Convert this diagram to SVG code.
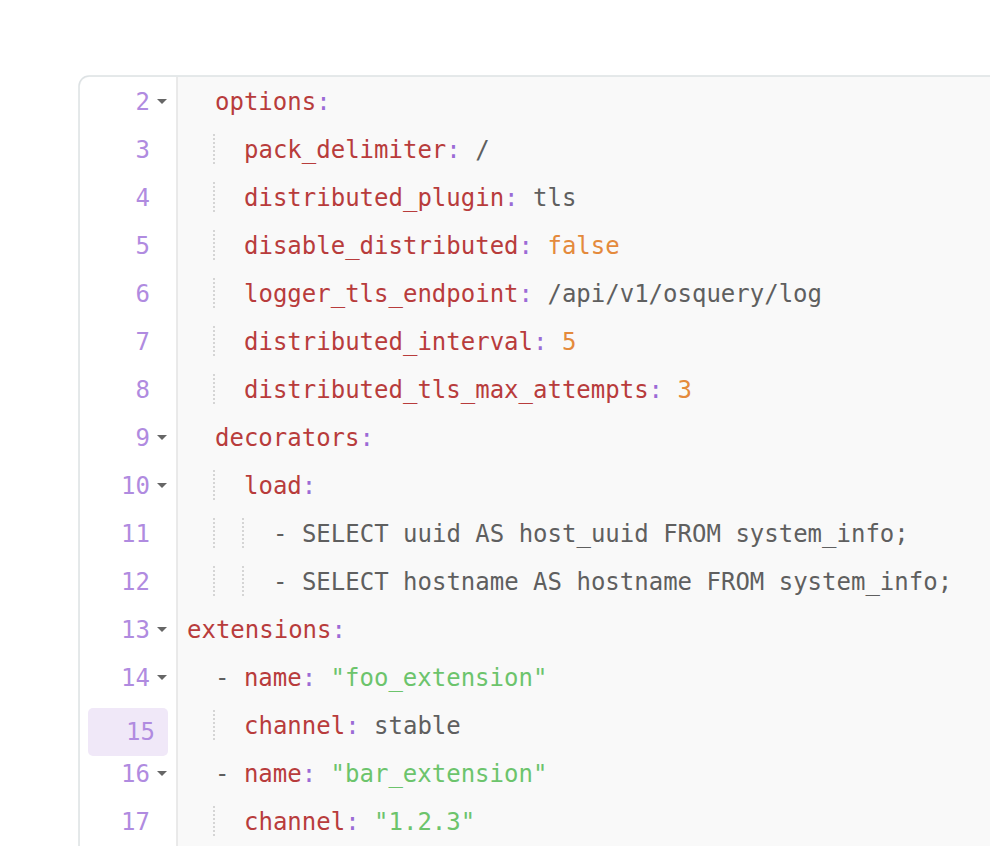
<svg xmlns="http://www.w3.org/2000/svg" width="990" height="846" viewBox="0 0 990 846">
<style>
text{font-family:"DejaVu Sans Mono","Liberation Mono",monospace;font-size:24px}
.n{fill:#b08be0;text-anchor:end}
.k{fill:#b83c3c}.p{fill:#9b6bd6}.s{fill:#6cc46c}.o{fill:#e48a3c}.t{fill:#5f5f5f}
.g{stroke:#bdbdbd;stroke-width:1.2;stroke-dasharray:2 2}
.a{fill:#666}
</style>
<rect width="990" height="846" fill="#fff"/>
<g id="editor">
<path d="M990 76H89a10 10 0 0 0-10 10V846H990Z" fill="#f9f9f9"/>
<path d="M80 86a10 10 0 0 1 10-9H177V846H80Z" fill="#fff"/>
<path d="M990 76H89a10 10 0 0 0-10 10V846" fill="none" stroke="#dde2e4" stroke-width="1.5"/>
<line x1="177" y1="77" x2="177" y2="846" stroke="#e3e3e3" stroke-width="1.5"/>
<rect x="88" y="708" width="80" height="48" rx="5" fill="#f0e8f8"/>
</g>
<g id="guides">
<line class="g" x1="214" y1="134" x2="214" y2="166"/>
<line class="g" x1="214" y1="182" x2="214" y2="214"/>
<line class="g" x1="214" y1="230" x2="214" y2="262"/>
<line class="g" x1="214" y1="278" x2="214" y2="310"/>
<line class="g" x1="214" y1="326" x2="214" y2="358"/>
<line class="g" x1="214" y1="374" x2="214" y2="406"/>
<line class="g" x1="214" y1="470" x2="214" y2="502"/>
<line class="g" x1="214" y1="518" x2="214" y2="550"/>
<line class="g" x1="214" y1="566" x2="214" y2="598"/>
<line class="g" x1="243" y1="518" x2="243" y2="550"/>
<line class="g" x1="243" y1="566" x2="243" y2="598"/>
<line class="g" x1="214" y1="710" x2="214" y2="742"/>
<line class="g" x1="214" y1="806" x2="214" y2="838"/>
</g>
<g id="gutter">
<text class="n" x="150" y="110">2</text><path class="a" d="M157 99h10l-5 5z"/>
<text class="n" x="150" y="158">3</text>
<text class="n" x="150" y="206">4</text>
<text class="n" x="150" y="254">5</text>
<text class="n" x="150" y="302">6</text>
<text class="n" x="150" y="350">7</text>
<text class="n" x="150" y="398">8</text>
<text class="n" x="150" y="446">9</text><path class="a" d="M157 435h10l-5 5z"/>
<text class="n" x="150" y="494">10</text><path class="a" d="M157 483h10l-5 5z"/>
<text class="n" x="150" y="542">11</text>
<text class="n" x="150" y="590">12</text>
<text class="n" x="150" y="638">13</text><path class="a" d="M157 627h10l-5 5z"/>
<text class="n" x="150" y="686">14</text><path class="a" d="M157 675h10l-5 5z"/>
<text class="n" x="155" y="740">15</text>
<text class="n" x="150" y="782">16</text><path class="a" d="M157 771h10l-5 5z"/>
<text class="n" x="150" y="830">17</text>
</g>
<g id="code">
<text x="215" y="110"><tspan class="k">options</tspan><tspan class="p">:</tspan></text>
<text x="244" y="158"><tspan class="k">pack_delimiter</tspan><tspan class="p">:</tspan><tspan class="t"> /</tspan></text>
<text x="244" y="206"><tspan class="k">distributed_plugin</tspan><tspan class="p">:</tspan><tspan class="t"> tls</tspan></text>
<text x="244" y="254"><tspan class="k">disable_distributed</tspan><tspan class="p">:</tspan><tspan class="o"> false</tspan></text>
<text x="244" y="302"><tspan class="k">logger_tls_endpoint</tspan><tspan class="p">:</tspan><tspan class="t"> /api/v1/osquery/log</tspan></text>
<text x="244" y="350"><tspan class="k">distributed_interval</tspan><tspan class="p">:</tspan><tspan class="o"> 5</tspan></text>
<text x="244" y="398"><tspan class="k">distributed_tls_max_attempts</tspan><tspan class="p">:</tspan><tspan class="o"> 3</tspan></text>
<text x="215" y="446"><tspan class="k">decorators</tspan><tspan class="p">:</tspan></text>
<text x="244" y="494"><tspan class="k">load</tspan><tspan class="p">:</tspan></text>
<text x="273" y="542" class="t">- SELECT uuid AS host_uuid FROM system_info;</text>
<text x="273" y="590" class="t">- SELECT hostname AS hostname FROM system_info;</text>
<text x="187" y="638"><tspan class="k">extensions</tspan><tspan class="p">:</tspan></text>
<text x="215" y="686"><tspan class="t">- </tspan><tspan class="k">name</tspan><tspan class="p">:</tspan><tspan class="s"> "foo_extension"</tspan></text>
<text x="244" y="734"><tspan class="k">channel</tspan><tspan class="p">:</tspan><tspan class="t"> stable</tspan></text>
<text x="215" y="782"><tspan class="t">- </tspan><tspan class="k">name</tspan><tspan class="p">:</tspan><tspan class="s"> "bar_extension"</tspan></text>
<text x="244" y="830"><tspan class="k">channel</tspan><tspan class="p">:</tspan><tspan class="s"> "1.2.3"</tspan></text>
</g>
</svg>
